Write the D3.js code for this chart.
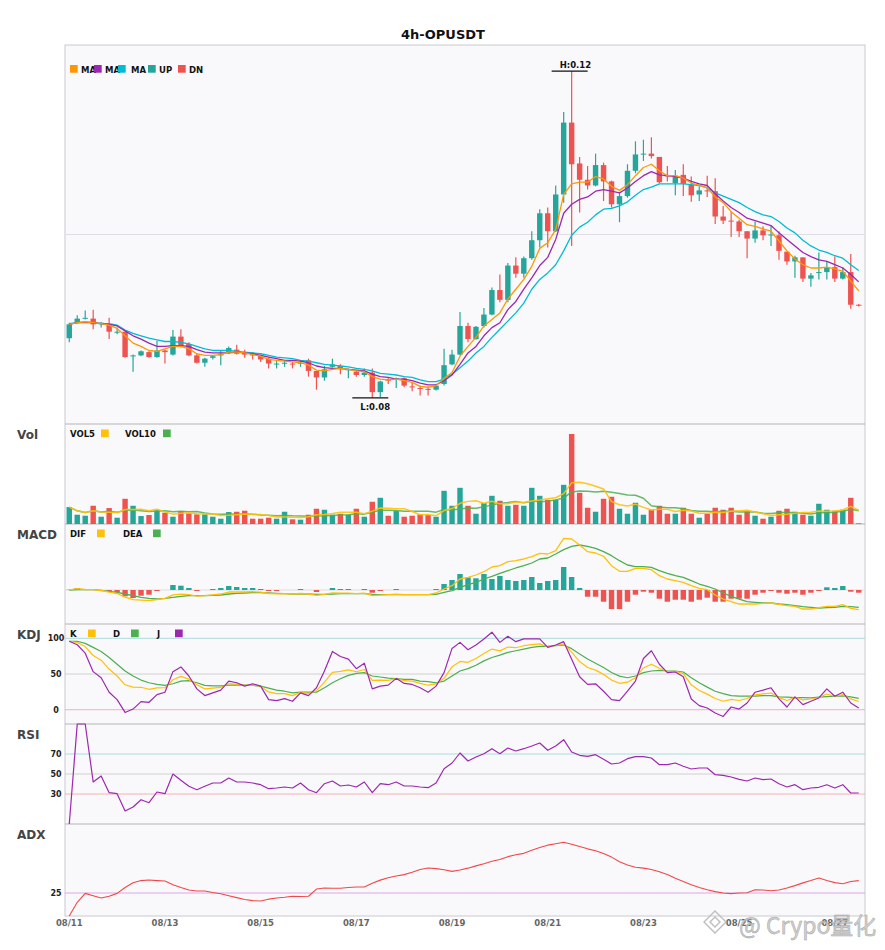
<!DOCTYPE html>
<html>
<head>
<meta charset="utf-8">
<script src="https://cdn.jsdelivr.net/npm/d3@7"></script>
<style>
  body { margin: 0; background: #fff; }
  svg { display: block; font-family: 'DejaVu Sans', sans-serif; }
</style>
</head>
<body>
<svg id="chart" width="885" height="950"></svg>
<script>
// 4h OPUSDT candles, 08/11 00:00 onwards
const SYMBOL = '4h-OPUSDT';
const START = Date.UTC(2025, 7, 11, 0);
const STEP_HOURS = 4;

const opens = [0.0873,0.0892,0.0897,0.0897,0.0890,0.0890,0.0880,0.0881,0.0851,0.0852,
  0.0856,0.0850,0.0858,0.0853,0.0875,0.0866,0.0852,0.0843,0.0849,0.0852,
  0.0855,0.0859,0.0855,0.0854,0.0852,0.0848,0.0841,0.0842,0.0842,0.0842,
  0.0846,0.0833,0.0825,0.0838,0.0839,0.0834,0.0832,0.0828,0.0831,0.0807,
  0.0823,0.0822,0.0824,0.0814,0.0812,0.0811,0.0810,0.0817,0.0841,0.0853,
  0.0888,0.0872,0.0888,0.0902,0.0932,0.0920,0.0962,0.0952,0.0971,0.0993,
  0.1026,0.1004,0.1049,0.1137,0.1087,0.1067,0.1060,0.1085,0.1065,0.1037,
  0.1047,0.1078,0.1098,0.1099,0.1095,0.1073,0.1063,0.1073,0.1061,0.1049,
  0.1054,0.1053,0.1022,0.1017,0.1016,0.1004,0.0995,0.1005,0.0999,0.0999,
  0.0979,0.0967,0.0972,0.0946,0.0953,0.0954,0.0960,0.0946,0.0954,0.0914];
const highs = [0.0892,0.0901,0.0907,0.0908,0.0893,0.0898,0.0886,0.0881,0.0853,0.0858,
  0.0857,0.0870,0.0859,0.0883,0.0884,0.0868,0.0854,0.0849,0.0852,0.0858,
  0.0863,0.0865,0.0859,0.0856,0.0853,0.0849,0.0845,0.0846,0.0844,0.0846,
  0.0848,0.0833,0.0839,0.0848,0.0841,0.0836,0.0834,0.0836,0.0836,0.0821,
  0.0825,0.0825,0.0825,0.0819,0.0815,0.0814,0.0817,0.0860,0.0859,0.0905,
  0.0892,0.0888,0.0910,0.0935,0.0951,0.0965,0.0972,0.0973,0.1004,0.1031,
  0.1033,0.1060,0.1150,0.1200,0.1095,0.1084,0.1099,0.1088,0.1066,0.1052,
  0.1086,0.1114,0.1116,0.1119,0.1095,0.1084,0.1079,0.1086,0.1071,0.1059,
  0.1072,0.1069,0.1035,0.1028,0.1018,0.1004,0.1016,0.1010,0.1011,0.1004,
  0.0979,0.0974,0.0972,0.0953,0.0978,0.0967,0.0973,0.0960,0.0976,0.0915];
const lows = [0.0868,0.0891,0.0896,0.0884,0.0886,0.0872,0.0878,0.0849,0.0832,0.0851,
  0.0849,0.0849,0.0842,0.0852,0.0862,0.0851,0.0842,0.0838,0.0847,0.0840,
  0.0854,0.0853,0.0849,0.0847,0.0844,0.0836,0.0836,0.0838,0.0836,0.0838,
  0.0826,0.0810,0.0821,0.0837,0.0829,0.0824,0.0826,0.0826,0.0800,0.0801,
  0.0817,0.0812,0.0813,0.0808,0.0803,0.0803,0.0809,0.0815,0.0840,0.0852,
  0.0868,0.0871,0.0886,0.0901,0.0917,0.0917,0.0947,0.0947,0.0969,0.0984,
  0.0984,0.1003,0.1039,0.0986,0.1027,0.1055,0.1059,0.1041,0.1033,0.1015,
  0.1045,0.1075,0.1090,0.1093,0.1063,0.1065,0.1048,0.1047,0.1040,0.1041,
  0.1046,0.1013,0.1013,0.0997,0.0997,0.0971,0.0990,0.0993,0.0986,0.0969,
  0.0963,0.0947,0.0942,0.0936,0.0945,0.0945,0.0942,0.0945,0.0909,0.0912];
const closes = [0.0890,0.0897,0.0898,0.0890,0.0892,0.0881,0.0881,0.0850,0.0852,0.0857,
  0.0850,0.0858,0.0856,0.0875,0.0863,0.0852,0.0843,0.0848,0.0851,0.0854,
  0.0861,0.0854,0.0853,0.0852,0.0847,0.0842,0.0842,0.0843,0.0841,0.0843,
  0.0833,0.0825,0.0835,0.0841,0.0835,0.0835,0.0828,0.0831,0.0807,0.0820,
  0.0821,0.0824,0.0815,0.0813,0.0811,0.0810,0.0815,0.0840,0.0853,0.0888,
  0.0872,0.0887,0.0902,0.0932,0.0920,0.0962,0.0952,0.0971,0.0993,0.1026,
  0.1004,0.1049,0.1137,0.1086,0.1067,0.1060,0.1085,0.1065,0.1037,0.1047,
  0.1078,0.1098,0.1099,0.1096,0.1064,0.1071,0.1072,0.1062,0.1048,0.1054,
  0.1053,0.1022,0.1017,0.1016,0.1004,0.0995,0.1005,0.0999,0.1000,0.0980,
  0.0967,0.0972,0.0946,0.0950,0.0954,0.0960,0.0946,0.0954,0.0914,0.0913];

// moving averages shown on the price panel (orange / purple / cyan)
const maFast = [0.0890,0.0892,0.0893,0.0892,0.0891,0.0889,0.0885,0.0876,0.0867,0.0863,
  0.0858,0.0857,0.0860,0.0863,0.0863,0.0860,0.0854,0.0852,0.0852,0.0853,
  0.0856,0.0856,0.0855,0.0853,0.0851,0.0847,0.0846,0.0845,0.0844,0.0843,
  0.0840,0.0834,0.0833,0.0835,0.0836,0.0835,0.0833,0.0832,0.0826,0.0823,
  0.0822,0.0823,0.0821,0.0819,0.0814,0.0813,0.0815,0.0824,0.0831,0.0851,
  0.0863,0.0874,0.0888,0.0896,0.0904,0.0921,0.0933,0.0945,0.0961,0.0983,
  0.0990,0.1006,0.1049,0.1062,0.1064,0.1064,0.1071,0.1068,0.1059,0.1054,
  0.1061,0.1072,0.1082,0.1086,0.1078,0.1072,0.1072,0.1069,0.1063,0.1060,
  0.1057,0.1046,0.1039,0.1028,0.1020,0.1012,0.1010,0.1007,0.1004,0.0992,
  0.0980,0.0970,0.0963,0.0959,0.0959,0.0960,0.0958,0.0955,0.0943,0.0931];
const maMid = [0.0890,0.0892,0.0892,0.0892,0.0891,0.0890,0.0888,0.0882,0.0876,0.0872,
  0.0867,0.0863,0.0863,0.0864,0.0864,0.0863,0.0859,0.0856,0.0855,0.0855,
  0.0855,0.0856,0.0855,0.0854,0.0852,0.0850,0.0848,0.0846,0.0846,0.0845,
  0.0843,0.0839,0.0837,0.0836,0.0836,0.0835,0.0834,0.0833,0.0829,0.0826,
  0.0825,0.0823,0.0823,0.0821,0.0818,0.0816,0.0816,0.0821,0.0828,0.0841,
  0.0855,0.0863,0.0876,0.0886,0.0892,0.0908,0.0918,0.0933,0.0947,0.0962,
  0.0972,0.0994,0.1026,0.1037,0.1043,0.1046,0.1053,0.1055,0.1053,0.1051,
  0.1057,0.1065,0.1072,0.1077,0.1073,0.1072,0.1071,0.1069,0.1065,0.1062,
  0.1060,0.1050,0.1041,0.1033,0.1027,0.1020,0.1017,0.1014,0.1011,0.1002,
  0.0994,0.0986,0.0978,0.0973,0.0969,0.0967,0.0963,0.0959,0.0951,0.0942];
const maSlow = [0.0891,0.0892,0.0893,0.0892,0.0891,0.0891,0.0889,0.0883,0.0879,0.0876,
  0.0873,0.0871,0.0869,0.0869,0.0868,0.0866,0.0863,0.0860,0.0858,0.0858,
  0.0858,0.0857,0.0856,0.0855,0.0854,0.0852,0.0850,0.0849,0.0848,0.0846,
  0.0845,0.0843,0.0841,0.0840,0.0839,0.0838,0.0836,0.0835,0.0833,0.0830,
  0.0829,0.0828,0.0826,0.0825,0.0822,0.0820,0.0820,0.0823,0.0829,0.0837,
  0.0845,0.0855,0.0863,0.0874,0.0884,0.0894,0.0904,0.0916,0.0933,0.0945,
  0.0953,0.0963,0.0980,0.0999,0.1009,0.1015,0.1024,0.1031,0.1032,0.1035,
  0.1040,0.1048,0.1055,0.1058,0.1062,0.1062,0.1062,0.1062,0.1061,0.1060,
  0.1057,0.1051,0.1047,0.1043,0.1039,0.1033,0.1028,0.1024,0.1022,0.1016,
  0.1008,0.1002,0.0993,0.0986,0.0981,0.0978,0.0974,0.0971,0.0963,0.0956];

// volume (millions) and its 5 / 10 averages
const volumes = [1.70,0.93,0.83,1.83,0.73,1.60,0.63,2.53,1.83,0.80,
  0.90,1.37,1.13,0.73,1.30,1.07,0.97,0.97,0.73,0.53,
  1.20,1.23,1.33,0.53,0.53,0.63,0.53,1.23,0.47,0.43,
  0.93,1.53,1.43,0.93,1.03,0.93,1.53,0.73,2.23,2.63,
  0.83,1.30,0.73,0.83,0.97,0.90,0.73,3.33,1.83,3.63,
  1.83,1.03,2.10,2.83,2.33,1.83,1.93,1.83,3.63,2.83,
  2.43,2.43,3.93,9.03,3.13,1.63,1.23,2.53,2.73,1.53,
  1.03,2.13,0.93,1.43,1.83,1.03,1.03,1.63,1.03,0.63,
  1.03,1.63,1.43,1.63,0.93,1.23,0.83,0.53,0.73,1.33,
  1.53,1.23,0.93,0.83,2.03,1.43,1.33,1.43,2.63,0.07];
const vol5 = [1.70,1.32,1.15,1.32,1.20,1.18,1.12,1.46,1.46,1.48,
  1.34,1.49,1.21,0.99,1.09,1.12,1.04,1.01,1.01,0.85,
  0.88,0.93,1.00,0.96,0.96,0.85,0.71,0.69,0.68,0.66,
  0.72,0.92,0.96,1.05,1.17,1.17,1.17,1.03,1.29,1.61,
  1.59,1.54,1.54,1.26,0.93,0.95,0.83,1.35,1.55,2.08,
  2.27,2.33,2.08,2.28,2.02,2.02,2.20,2.15,2.31,2.41,
  2.53,2.63,3.05,4.13,4.19,4.03,3.79,3.51,2.25,1.93,
  1.81,1.99,1.67,1.41,1.47,1.47,1.25,1.39,1.31,1.07,
  1.07,1.19,1.15,1.27,1.33,1.37,1.21,1.03,0.85,0.93,
  0.99,1.07,1.15,1.17,1.31,1.29,1.31,1.41,1.77,1.38];
const vol10 = [1.70,1.32,1.15,1.32,1.20,1.27,1.18,1.35,1.40,1.34,
  1.26,1.31,1.34,1.23,1.28,1.23,1.26,1.11,1.00,0.97,
  1.00,0.99,1.01,0.99,0.91,0.87,0.82,0.85,0.82,0.81,
  0.78,0.81,0.82,0.86,0.91,0.94,1.04,0.99,1.17,1.39,
  1.38,1.36,1.29,1.28,1.27,1.27,1.19,1.45,1.41,1.51,
  1.61,1.58,1.72,1.92,2.05,2.15,2.27,2.12,2.30,2.22,
  2.28,2.42,2.60,3.22,3.30,3.28,3.21,3.28,3.19,3.06,
  2.92,2.89,2.59,1.83,1.70,1.64,1.62,1.53,1.36,1.27,
  1.27,1.22,1.27,1.29,1.20,1.22,1.20,1.09,1.06,1.13,
  1.18,1.14,1.09,1.01,1.12,1.14,1.19,1.28,1.47,1.34];

// MACD
const dif = [0.00002,0.00013,0.00005,0.00003,-0.00005,-0.00022,-0.00035,-0.00072,-0.00097,-0.00102,
  -0.00107,-0.00095,-0.00083,-0.00048,-0.00042,-0.00047,-0.00062,-0.00057,-0.00048,-0.00040,
  -0.00020,-0.00018,-0.00020,-0.00017,-0.00022,-0.00035,-0.00038,-0.00037,-0.00040,-0.00035,
  -0.00040,-0.00053,-0.00043,-0.00030,-0.00032,-0.00032,-0.00037,-0.00032,-0.00057,-0.00052,
  -0.00047,-0.00042,-0.00047,-0.00047,-0.00047,-0.00047,-0.00030,0.00010,0.00043,0.00110,
  0.00127,0.00150,0.00183,0.00230,0.00243,0.00283,0.00293,0.00310,0.00333,0.00367,
  0.00360,0.00393,0.00517,0.00510,0.00450,0.00383,0.00370,0.00337,0.00243,0.00187,
  0.00187,0.00217,0.00217,0.00203,0.00143,0.00110,0.00093,0.00077,0.00043,0.00017,
  0.00003,-0.00050,-0.00090,-0.00117,-0.00140,-0.00140,-0.00140,-0.00133,-0.00130,-0.00143,
  -0.00157,-0.00163,-0.00190,-0.00190,-0.00177,-0.00163,-0.00163,-0.00147,-0.00183,-0.00197];
const dea = [0,0.00003,0.00003,0.00003,-0.00003,-0.00013,-0.00023,-0.00040,-0.00057,-0.00073,
  -0.00083,-0.00090,-0.00083,-0.00073,-0.00063,-0.00057,-0.00057,-0.00057,-0.00053,-0.00050,
  -0.00040,-0.00033,-0.00030,-0.00027,-0.00027,-0.00030,-0.00033,-0.00037,-0.00040,-0.00040,
  -0.00040,-0.00043,-0.00043,-0.00040,-0.00037,-0.00037,-0.00037,-0.00037,-0.00043,-0.00047,
  -0.00047,-0.00047,-0.00047,-0.00047,-0.00047,-0.00047,-0.00043,-0.00023,-0.00007,0.00027,
  0.00053,0.00077,0.00110,0.00137,0.00167,0.00193,0.00220,0.00243,0.00270,0.00310,
  0.00320,0.00360,0.00403,0.00437,0.00450,0.00437,0.00417,0.00383,0.00343,0.00293,
  0.00250,0.00233,0.00233,0.00227,0.00193,0.00167,0.00143,0.00127,0.00093,0.00060,
  0.00037,0.00010,-0.00030,-0.00063,-0.00090,-0.00117,-0.00123,-0.00130,-0.00130,-0.00140,
  -0.00147,-0.00157,-0.00167,-0.00173,-0.00180,-0.00177,-0.00173,-0.00163,-0.00167,-0.00173];
const macdHist = [0.00003,0.00020,0.00003,0,-0.00003,-0.00017,-0.00023,-0.00063,-0.00080,-0.00057,
  -0.00047,-0.00010,0,0.00050,0.00043,0.00020,-0.00010,0,0.00010,0.00020,
  0.00040,0.00030,0.00020,0.00020,0.00010,-0.00010,-0.00010,0,0,0.00010,
  0,-0.00020,0,0.00020,0.00010,0.00010,0,0.00010,-0.00027,-0.00010,
  0,0.00010,0,0,0,0,0.00010,0.00060,0.00100,0.00160,
  0.00127,0.00117,0.00160,0.00110,0.00140,0.00100,0.00090,0.00100,0.00130,0.00070,
  0.00090,0.00100,0.00230,0.00130,0.00020,-0.00067,-0.00067,-0.00117,-0.00190,-0.00190,
  -0.00117,-0.00047,-0.00017,-0.00027,-0.00087,-0.00117,-0.00097,-0.00097,-0.00117,-0.00097,
  -0.00077,-0.00117,-0.00117,-0.00087,-0.00087,-0.00087,-0.00047,-0.00027,-0.00010,-0.00027,
  -0.00037,-0.00027,-0.00047,-0.00027,-0.00010,0.00027,0.00020,0.00040,-0.00017,-0.00027];

// KDJ
const kLine = [95.8,94.2,88.4,75.9,69.3,56.9,47.2,34.9,31.7,31.4,
  28.6,30.7,30.8,42.0,46.7,42.8,34.9,29.2,30.2,31.4,
  36.3,35.8,34.0,34.8,33.0,24.9,22.5,22.5,19.7,24.2,
  22.9,26.6,38.5,52.4,53.8,55.7,53.1,56.3,41.2,41.5,
  41.0,43.5,40.6,40.1,36.9,34.3,36.2,44.0,60.1,67.6,
  66.4,71.7,78.6,84.9,82.4,87.7,86.8,89.6,91.2,92.1,
  88.2,89.9,92.1,80.6,67.4,59.1,55.4,49.5,41.5,37.0,
  38.5,44.8,58.5,63.7,58.0,53.5,53.8,50.6,34.9,27.0,
  21.8,15.7,11.9,14.5,12.9,15.7,20.8,22.3,23.4,17.0,
  12.9,17.3,13.7,15.0,17.1,22.0,18.9,21.1,15.1,11.5];
const dLine = [95.8,95.8,92.9,87.3,81.6,73.1,63.7,54.2,47.2,41.5,
  37.7,35.4,34.0,36.3,40.1,40.6,37.7,34.0,33.5,33.5,
  34.4,34.9,34.4,34.0,33.0,30.2,27.4,25.9,23.6,24.5,
  24.5,24.5,30.7,37.7,43.4,48.1,50.9,51.9,47.2,45.8,
  44.3,43.4,42.5,42.5,40.1,39.2,37.7,40.1,47.2,54.2,
  57.5,62.3,68.4,73.1,76.4,80.2,82.5,84.9,87.3,88.7,
  88.7,89.6,90.6,85.5,78.0,71.0,65.0,59.0,52.0,47.0,
  44.8,47.2,51.9,54.2,55.2,54.2,54.2,52.8,44.8,37.7,
  31.6,25.9,22.6,19.8,18.9,18.9,18.9,19.8,19.8,17.9,
  17.5,17.0,17.0,16.5,17.5,18.4,18.9,19.3,17.9,16.0];
const jLine = [95.8,91.0,79.2,53.3,44.8,24.5,14.2,-3.8,0.9,11.3,
  10.4,21.2,24.5,53.3,59.9,47.2,29.2,19.8,23.6,27.4,
  40.1,37.7,33.0,36.3,33.0,14.2,12.7,15.6,11.8,23.6,
  19.8,30.7,54.2,81.6,74.5,70.8,57.5,65.1,29.2,33.0,
  34.4,43.9,36.8,35.4,30.7,24.5,33.0,51.9,85.8,94.3,
  84.0,90.6,99.1,108.5,94.3,102.8,95.3,99.1,99.1,99.1,
  87.3,90.6,95.3,70.8,46.2,35.4,36.3,25.9,14.2,12.7,
  25.9,40.1,71.7,82.5,63.7,51.9,52.8,46.2,15.1,5.7,
  2.4,-4.7,-9.4,3.8,0.9,9.4,24.5,27.4,30.7,15.1,
  3.8,17.9,7.1,11.8,16.5,29.2,18.9,24.5,9.4,2.4];

const rsi = [0,100,100,42,48,31.3,30.3,13,17,24.3,
  21.3,32,30.3,50,43.7,37.7,34.3,37.7,41,41,
  46,42,42,41,39.3,35.3,36,37,36,41,
  34.3,31.3,40.3,43,38,39,37,42,31.3,40.3,
  39.3,42,38,38,37,36.3,41,55.3,61,71,
  63,67,70.3,75.3,70.3,76,73,75.3,78,81,
  73.7,78,84.3,72,68.7,67.7,69.3,64.7,60,61,
  65.3,67.3,67.3,66,59.3,59.3,61,57.7,55,56,
  56,49.3,48.7,47,44.7,43,46,44.3,45,40.3,
  37,39.3,34.3,36,36.7,39.3,36,39.3,31,31];

const adx = [0,14.9,24.6,22,19.6,21.5,24.6,31,36.2,38.5,
  39.1,38.5,38.0,34,31,28.3,27.2,27.2,25.5,24.2,
  22,20,18,16.7,16.3,18.3,19.5,20.3,21.4,21.2,
  21.5,29.3,30.4,30.2,30.1,31,31.5,31.5,35.5,39,
  41.5,43.5,45,47.5,50.5,52.2,51.5,50.2,48.5,50,
  52,54.5,56.8,59.5,61.5,64.5,66.5,68.1,71.5,74.5,
  77,78.5,80.1,78,75.5,73,71,68,64,59,
  55.4,53,52,50.5,48,45,41,37.5,34,31,
  28.5,26.5,25,24.3,25,25.3,28.6,28.3,27.5,28.3,
  30.5,33,36,38.5,41.3,38.5,36.3,35.1,37.5,38.4];

const kdjLevels = [100, 50, 0];
const rsiLevels = [70, 50, 30];
const adxLevels = [25];

// ---------------------------------------------------------------------------
const N = closes.length;
const UP = '#26a69a', DN = '#ef5350';
const ORANGE = '#ff9800', PURPLE = '#9c27b0', CYAN = '#00bcd4';
const YELLOW = '#ffc107', GREEN = '#4caf50';
const LVL_HI = '#a9dcdc', LVL_MID = '#d0d0d0', LVL_LO = '#f5b2b2';

const svg = d3.select('#chart');
const X0 = 65, X1 = 865;

const panels = {
  main: { top: 45, bottom: 424 },
  vol:  { top: 424, bottom: 524, label: 'Vol' },
  macd: { top: 524, bottom: 624, label: 'MACD' },
  kdj:  { top: 624, bottom: 724, label: 'KDJ' },
  rsi:  { top: 724, bottom: 824, label: 'RSI' },
  adx:  { top: 824, bottom: 916, label: 'ADX' },
};

const times = d3.range(N).map(i => new Date(START + i * STEP_HOURS * 3600e3));
const x = d3.scaleBand().domain(d3.range(N)).range([64, 864]).padding(0.32);
const bw = x.bandwidth();
const cx = i => x(i) + bw / 2;
const isUp = i => closes[i] >= opens[i];

// title
svg.append('text')
  .attr('x', 443).attr('y', 39)
  .attr('text-anchor', 'middle')
  .attr('font-size', 13).attr('font-weight', 'bold').attr('fill', '#111')
  .text(SYMBOL);

// panel frames
svg.append('rect')
  .attr('x', X0).attr('y', panels.main.top)
  .attr('width', X1 - X0).attr('height', panels.adx.bottom - panels.main.top)
  .attr('fill', '#f9f9fb').attr('stroke', '#c9c9d1');
Object.values(panels).forEach(p => {
  if (p.top === panels.main.top) return;
  svg.append('line')
    .attr('x1', X0).attr('x2', X1).attr('y1', p.top).attr('y2', p.top)
    .attr('stroke', '#b5b5b8');
  if (p.label) {
    svg.append('text')
      .attr('x', 17).attr('y', p.top + 15)
      .attr('font-size', 12).attr('font-weight', 'bold').attr('fill', '#444')
      .text(p.label);
  }
});

function hLine(y, v, color) {
  svg.append('line')
    .attr('x1', X0).attr('x2', X1).attr('y1', y(v)).attr('y2', y(v))
    .attr('stroke', color).attr('stroke-width', 1);
}
function levelLabel(y, v) {
  svg.append('text')
    .attr('x', 56).attr('y', y(v) + 3)
    .attr('text-anchor', 'middle')
    .attr('font-size', 8).attr('font-weight', 'bold').attr('fill', '#222')
    .text(v);
}
function seriesLine(values, y, color, width, opacity) {
  svg.append('path')
    .datum(values)
    .attr('fill', 'none')
    .attr('stroke', color)
    .attr('stroke-width', width || 1.2)
    .attr('stroke-opacity', opacity || 1)
    .attr('stroke-linejoin', 'round')
    .attr('d', d3.line().x((d, i) => cx(i)).y(d => y(d)));
}
function subLegend(top, items) {
  items.forEach(it => {
    svg.append('text')
      .attr('x', it.tx).attr('y', top + 13)
      .attr('font-size', 8.5).attr('font-weight', 'bold').attr('fill', '#111')
      .text(it.label);
    svg.append('rect')
      .attr('x', it.sx).attr('y', top + 5.5).attr('width', 7.7).attr('height', 7.7)
      .attr('fill', it.color);
  });
}

// ---------------- price panel ----------------
const lo = d3.min(lows), hi = d3.max(highs), pad = (hi - lo) * 0.08;
const yP = d3.scaleLinear().domain([lo - pad, hi + pad]).range([panels.main.bottom, panels.main.top]);

svg.append('line')
  .attr('x1', X0).attr('x2', X1).attr('y1', yP(0.10)).attr('y2', yP(0.10))
  .attr('stroke', '#dedee4');

const candles = svg.append('g');
candles.selectAll('line')
  .data(d3.range(N)).join('line')
  .attr('x1', cx).attr('x2', cx)
  .attr('y1', i => yP(highs[i])).attr('y2', i => yP(lows[i]))
  .attr('stroke', i => isUp(i) ? UP : DN).attr('stroke-width', 1.2);
candles.selectAll('rect')
  .data(d3.range(N)).join('rect')
  .attr('x', i => x(i)).attr('width', bw)
  .attr('y', i => yP(Math.max(opens[i], closes[i])))
  .attr('height', i => Math.max(1, Math.abs(yP(opens[i]) - yP(closes[i]))))
  .attr('fill', i => isUp(i) ? UP : DN);

seriesLine(maSlow, yP, CYAN, 1.3);
seriesLine(maMid, yP, PURPLE, 1.3);
seriesLine(maFast, yP, ORANGE, 1.3);

// high / low markers
const iHi = d3.maxIndex(highs), iLo = d3.minIndex(lows);
[[iHi, highs[iHi], 'H', -3.3], [iLo, lows[iLo], 'L', 12]].forEach(([i, v, tag, dy]) => {
  svg.append('line')
    .attr('x1', cx(i) - 20).attr('x2', cx(i) + 16)
    .attr('y1', yP(v)).attr('y2', yP(v))
    .attr('stroke', '#111').attr('stroke-width', 1.3);
  svg.append('text')
    .attr('x', cx(i) - 12).attr('y', yP(v) + dy)
    .attr('font-size', 8.5).attr('font-weight', 'bold').attr('fill', '#111')
    .text(`${tag}:${v.toFixed(2)}`);
});

// price legend
[
  { label: 'MA', color: ORANGE, x: 70, tx: 81 },
  { label: 'MA', color: PURPLE, x: 94, tx: 105 },
  { label: 'MA', color: CYAN, x: 118, tx: 131 },
  { label: 'UP', color: UP, x: 148, tx: 159 },
  { label: 'DN', color: DN, x: 178, tx: 189 },
].forEach(it => {
  svg.append('rect')
    .attr('x', it.x).attr('y', 65).attr('width', 7.7).attr('height', 7.7)
    .attr('fill', it.color);
  svg.append('text')
    .attr('x', it.tx).attr('y', 72.5)
    .attr('font-size', 8.5).attr('font-weight', 'bold').attr('fill', '#111')
    .text(it.label);
});

// ---------------- volume ----------------
const yV = d3.scaleLinear().domain([0, d3.max(volumes) / 0.9]).range([panels.vol.bottom, panels.vol.top]);
svg.append('g').selectAll('rect')
  .data(d3.range(N)).join('rect')
  .attr('x', i => x(i)).attr('width', bw)
  .attr('y', i => yV(volumes[i]))
  .attr('height', i => yV(0) - yV(volumes[i]))
  .attr('fill', i => isUp(i) ? UP : DN);
seriesLine(vol10, yV, GREEN, 1.5, 0.85);
seriesLine(vol5, yV, YELLOW, 1.5, 0.9);
subLegend(panels.vol.top, [
  { label: 'VOL5', color: YELLOW, tx: 70, sx: 101 },
  { label: 'VOL10', color: GREEN, tx: 125, sx: 163 },
]);

// ---------------- MACD ----------------
const mAll = dif.concat(dea, macdHist);
const mMin = d3.min(mAll), mMax = d3.max(mAll), mPad = (mMax - mMin) * 0.2;
const yM = d3.scaleLinear().domain([mMin - mPad, mMax + mPad]).range([panels.macd.bottom, panels.macd.top]);
hLine(yM, 0, '#dcdcdc');
svg.append('g').selectAll('rect')
  .data(d3.range(N)).join('rect')
  .attr('x', i => x(i)).attr('width', bw)
  .attr('y', i => yM(Math.max(0, macdHist[i])))
  .attr('height', i => Math.abs(yM(macdHist[i]) - yM(0)))
  .attr('fill', i => macdHist[i] >= 0 ? UP : DN);
seriesLine(dea, yM, GREEN, 1.3);
seriesLine(dif, yM, YELLOW, 1.3);
subLegend(panels.macd.top, [
  { label: 'DIF', color: YELLOW, tx: 70, sx: 97 },
  { label: 'DEA', color: GREEN, tx: 123, sx: 153 },
]);

// ---------------- KDJ ----------------
const yK = d3.scaleLinear().domain([-20, 120]).range([panels.kdj.bottom, panels.kdj.top]);
hLine(yK, kdjLevels[0], LVL_HI);
hLine(yK, kdjLevels[1], LVL_MID);
hLine(yK, kdjLevels[2], LVL_LO);
kdjLevels.forEach(v => levelLabel(yK, v));
seriesLine(dLine, yK, GREEN, 1.2);
seriesLine(kLine, yK, YELLOW, 1.2);
seriesLine(jLine, yK, PURPLE, 1.2);
subLegend(panels.kdj.top, [
  { label: 'K', color: YELLOW, tx: 70, sx: 88 },
  { label: 'D', color: GREEN, tx: 113, sx: 131 },
  { label: 'J', color: PURPLE, tx: 157, sx: 175 },
]);

// ---------------- RSI ----------------
const yR = d3.scaleLinear().domain([0, 100]).range([panels.rsi.bottom, panels.rsi.top]);
hLine(yR, rsiLevels[0], LVL_HI);
hLine(yR, rsiLevels[1], LVL_MID);
hLine(yR, rsiLevels[2], LVL_LO);
rsiLevels.forEach(v => levelLabel(yR, v));
seriesLine(rsi, yR, PURPLE, 1.2);

// ---------------- ADX ----------------
const yA = d3.scaleLinear().domain([0, 100]).range([panels.adx.bottom, panels.adx.top]);
hLine(yA, adxLevels[0], '#dba8e2');
adxLevels.forEach(v => levelLabel(yA, v));
seriesLine(adx, yA, '#f0484a', 1.1);

// ---------------- x axis ----------------
const fmt = d3.utcFormat('%m/%d');
const tickIdx = d3.range(N).filter(i => times[i].getUTCHours() === 0 && times[i].getUTCDate() % 2 === 1);
svg.append('g').selectAll('text')
  .data(tickIdx).join('text')
  .attr('x', cx).attr('y', 926)
  .attr('text-anchor', 'middle')
  .attr('font-size', 8.5).attr('font-weight', 'bold').attr('fill', '#666')
  .text(i => fmt(times[i]));

// watermark (sits over the last date labels, as in the source image)
const mark = svg.append('g').attr('fill', 'none').attr('stroke', '#bdbdbd').attr('stroke-width', 1.4);
mark.append('path').attr('d', 'M715,911 L726,922 L715,933 L704,922 Z');
mark.append('path').attr('d', 'M715,917 L720,922 L715,927 L710,922 Z');
svg.append('text')
  .attr('x', 739).attr('y', 934)
  .attr('font-family', "'Noto Sans CJK SC', 'Noto Sans', sans-serif")
  .attr('font-size', 23)
  .attr('fill', 'rgba(200,200,200,0.85)')
  .attr('stroke', '#a6a6a6').attr('stroke-width', 0.5)
  .text('@ Crypo量化');
</script>
</body>
</html>
